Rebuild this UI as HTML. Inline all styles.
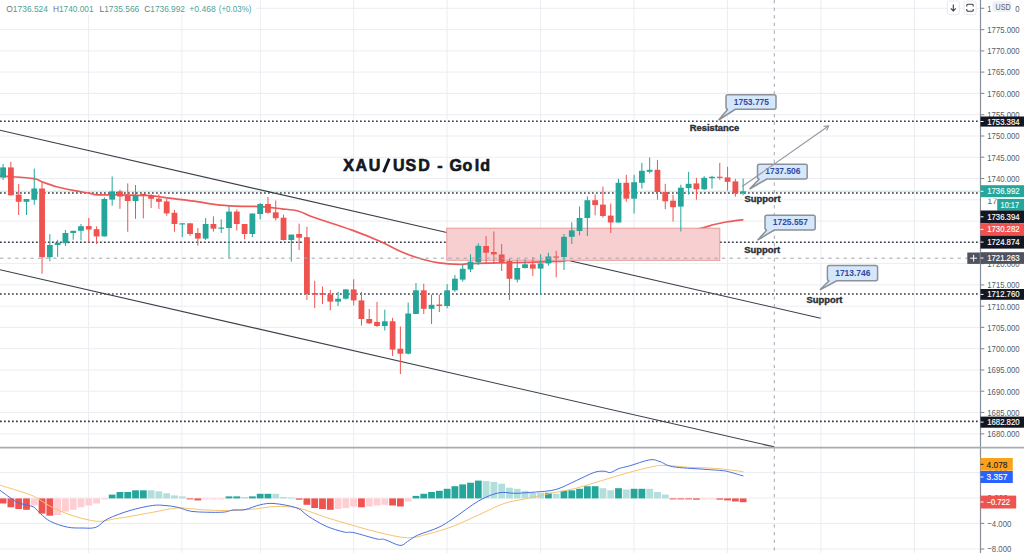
<!DOCTYPE html>
<html><head><meta charset="utf-8"><title>XAU/USD</title>
<style>html,body{margin:0;padding:0;background:#fff;width:1024px;height:553px;overflow:hidden}svg{display:block}text{font-family:"Liberation Sans",sans-serif}</style>
</head><body><svg width="1024" height="553" viewBox="0 0 1024 553"><g stroke="#eaedf1" stroke-width="1"><line x1="88.6" y1="0" x2="88.6" y2="553"/><line x1="181.9" y1="0" x2="181.9" y2="553"/><line x1="260.3" y1="0" x2="260.3" y2="553"/><line x1="353.7" y1="0" x2="353.7" y2="553"/><line x1="447.1" y1="0" x2="447.1" y2="553"/><line x1="540.5" y1="0" x2="540.5" y2="553"/><line x1="634.0" y1="0" x2="634.0" y2="553"/><line x1="727.4" y1="0" x2="727.4" y2="553"/><line x1="820.9" y1="0" x2="820.9" y2="553"/><line x1="914.4" y1="0" x2="914.4" y2="553"/><line x1="0" y1="8.3" x2="980.5" y2="8.3"/><line x1="0" y1="29.6" x2="980.5" y2="29.6"/><line x1="0" y1="50.9" x2="980.5" y2="50.9"/><line x1="0" y1="72.1" x2="980.5" y2="72.1"/><line x1="0" y1="93.4" x2="980.5" y2="93.4"/><line x1="0" y1="114.7" x2="980.5" y2="114.7"/><line x1="0" y1="136.0" x2="980.5" y2="136.0"/><line x1="0" y1="157.2" x2="980.5" y2="157.2"/><line x1="0" y1="178.5" x2="980.5" y2="178.5"/><line x1="0" y1="199.8" x2="980.5" y2="199.8"/><line x1="0" y1="221.1" x2="980.5" y2="221.1"/><line x1="0" y1="242.3" x2="980.5" y2="242.3"/><line x1="0" y1="263.6" x2="980.5" y2="263.6"/><line x1="0" y1="284.9" x2="980.5" y2="284.9"/><line x1="0" y1="306.2" x2="980.5" y2="306.2"/><line x1="0" y1="327.4" x2="980.5" y2="327.4"/><line x1="0" y1="348.7" x2="980.5" y2="348.7"/><line x1="0" y1="370.0" x2="980.5" y2="370.0"/><line x1="0" y1="391.2" x2="980.5" y2="391.2"/><line x1="0" y1="412.5" x2="980.5" y2="412.5"/><line x1="0" y1="433.8" x2="980.5" y2="433.8"/><line x1="0" y1="472.5" x2="980.5" y2="472.5"/><line x1="0" y1="498.0" x2="980.5" y2="498.0"/><line x1="0" y1="523.4" x2="980.5" y2="523.4"/><line x1="0" y1="549.0" x2="980.5" y2="549.0"/></g><g stroke="#363a45" stroke-width="1.6" stroke-dasharray="1.7 2.3"><line x1="0" y1="121.2" x2="980.5" y2="121.2"/><line x1="0" y1="193.0" x2="980.5" y2="193.0"/><line x1="0" y1="242.2" x2="980.5" y2="242.2"/><line x1="0" y1="294.0" x2="980.5" y2="294.0"/><line x1="0" y1="421.4" x2="980.5" y2="421.4"/></g><line x1="0" y1="191.2" x2="980.5" y2="191.2" stroke="#bfe3de" stroke-width="1"/><g stroke="#3c3f48" stroke-width="1.1"><line x1="0" y1="130.2" x2="820.6" y2="318.2"/><line x1="0" y1="269.8" x2="774.3" y2="446.9"/></g><path fill="none" stroke="#ec5b5b" stroke-width="1.7" d="M0.0,176.0 C1.9,176.1 5.7,176.2 11.4,176.7 C17.1,177.1 28.9,177.9 34.0,178.7 C39.1,179.5 38.0,180.4 41.8,181.7 C45.5,183.0 51.0,185.2 56.5,186.7 C62.0,188.2 69.0,189.6 74.6,190.7 C80.2,191.8 86.2,192.7 90.0,193.4 C93.8,194.1 92.6,194.6 97.6,194.8 C102.6,195.0 112.7,194.7 120.0,194.8 C127.3,194.9 136.4,195.3 141.4,195.4 C146.4,195.5 144.7,195.1 150.0,195.6 C155.3,196.1 165.7,197.7 173.5,198.7 C181.3,199.7 189.2,200.6 197.0,201.7 C204.8,202.8 212.7,204.4 220.5,205.2 C228.3,206.0 237.3,206.2 244.0,206.4 C250.7,206.6 254.1,206.2 260.4,206.6 C266.7,207.0 275.3,208.1 281.6,208.8 C287.9,209.5 293.3,209.8 298.0,211.0 C302.7,212.2 306.1,214.5 310.0,216.0 C313.9,217.5 314.7,217.7 321.7,220.0 C328.7,222.3 342.1,226.5 352.0,230.1 C361.9,233.7 372.8,238.1 381.0,241.7 C389.2,245.3 394.6,248.9 401.3,251.8 C408.1,254.7 415.2,257.2 421.5,259.0 C427.8,260.8 432.5,261.9 438.9,262.8 C445.3,263.7 455.0,264.2 460.0,264.3 C465.0,264.4 462.7,263.9 469.0,263.6 C475.3,263.4 488.3,263.0 497.9,262.8 C507.5,262.6 517.2,262.5 526.8,262.3 C536.4,262.1 549.0,261.7 555.7,261.4 C562.5,261.1 556.6,262.4 567.3,260.5 C578.0,258.6 597.8,255.4 620.0,250.0 C642.2,244.6 685.3,232.5 700.6,228.3 C715.9,224.1 707.8,226.1 712.0,225.0 C716.2,223.9 720.8,222.9 726.0,222.0 C731.2,221.1 740.5,220.0 743.4,219.6"/><rect x="446.8" y="228.2" width="273" height="32.1" fill="#f8cfd0" stroke="#e99a9c" stroke-width="1"/><g><line x1="3.10" y1="164.0" x2="3.10" y2="180.0" stroke="#26a69a" stroke-width="1"/><rect x="0.20" y="167.4" width="5.8" height="10.20" fill="#26a69a"/><line x1="10.89" y1="161.8" x2="10.89" y2="195.7" stroke="#ef5350" stroke-width="1"/><rect x="7.99" y="167.4" width="5.8" height="27.90" fill="#ef5350"/><line x1="18.68" y1="184.0" x2="18.68" y2="215.0" stroke="#ef5350" stroke-width="1"/><rect x="15.78" y="194.6" width="5.8" height="7.20" fill="#ef5350"/><line x1="26.47" y1="199.0" x2="26.47" y2="215.0" stroke="#26a69a" stroke-width="1"/><rect x="23.57" y="199.0" width="5.8" height="2.80" fill="#26a69a"/><line x1="34.26" y1="168.6" x2="34.26" y2="204.8" stroke="#26a69a" stroke-width="1"/><rect x="31.36" y="188.5" width="5.8" height="11.30" fill="#26a69a"/><line x1="42.05" y1="181.0" x2="42.05" y2="273.7" stroke="#ef5350" stroke-width="1"/><rect x="39.15" y="188.5" width="5.8" height="68.70" fill="#ef5350"/><line x1="49.84" y1="234.2" x2="49.84" y2="261.3" stroke="#26a69a" stroke-width="1"/><rect x="46.94" y="245.0" width="5.8" height="12.20" fill="#26a69a"/><line x1="57.63" y1="239.8" x2="57.63" y2="256.8" stroke="#26a69a" stroke-width="1"/><rect x="54.73" y="242.7" width="5.8" height="2.30" fill="#26a69a"/><line x1="65.42" y1="230.0" x2="65.42" y2="246.0" stroke="#26a69a" stroke-width="1"/><rect x="62.52" y="233.0" width="5.8" height="10.20" fill="#26a69a"/><line x1="73.21" y1="230.8" x2="73.21" y2="239.8" stroke="#26a69a" stroke-width="1"/><rect x="70.31" y="230.8" width="5.8" height="2.20" fill="#26a69a"/><line x1="81.00" y1="224.0" x2="81.00" y2="240.5" stroke="#26a69a" stroke-width="1"/><rect x="78.10" y="226.2" width="5.8" height="4.60" fill="#26a69a"/><line x1="88.79" y1="218.0" x2="88.79" y2="242.5" stroke="#ef5350" stroke-width="1"/><rect x="85.89" y="226.1" width="5.8" height="3.40" fill="#ef5350"/><line x1="96.58" y1="226.4" x2="96.58" y2="244.0" stroke="#ef5350" stroke-width="1"/><rect x="93.68" y="229.2" width="5.8" height="7.20" fill="#ef5350"/><line x1="104.37" y1="197.3" x2="104.37" y2="236.4" stroke="#26a69a" stroke-width="1"/><rect x="101.47" y="199.0" width="5.8" height="37.40" fill="#26a69a"/><line x1="112.16" y1="176.5" x2="112.16" y2="205.7" stroke="#26a69a" stroke-width="1"/><rect x="109.26" y="191.4" width="5.8" height="8.20" fill="#26a69a"/><line x1="119.95" y1="189.6" x2="119.95" y2="208.8" stroke="#ef5350" stroke-width="1"/><rect x="117.05" y="191.4" width="5.8" height="5.10" fill="#ef5350"/><line x1="127.74" y1="183.4" x2="127.74" y2="231.8" stroke="#ef5350" stroke-width="1"/><rect x="124.84" y="195.0" width="5.8" height="6.00" fill="#ef5350"/><line x1="135.53" y1="185.0" x2="135.53" y2="218.8" stroke="#26a69a" stroke-width="1"/><rect x="132.63" y="195.0" width="5.8" height="6.00" fill="#26a69a"/><line x1="143.32" y1="193.9" x2="143.32" y2="218.4" stroke="#ef5350" stroke-width="1"/><rect x="140.42" y="193.9" width="5.8" height="1.80" fill="#ef5350"/><line x1="151.11" y1="194.2" x2="151.11" y2="208.0" stroke="#ef5350" stroke-width="1"/><rect x="148.21" y="195.4" width="5.8" height="3.40" fill="#ef5350"/><line x1="158.90" y1="194.4" x2="158.90" y2="209.0" stroke="#ef5350" stroke-width="1"/><rect x="156.00" y="198.6" width="5.8" height="3.20" fill="#ef5350"/><line x1="166.69" y1="198.8" x2="166.69" y2="215.7" stroke="#ef5350" stroke-width="1"/><rect x="163.79" y="201.4" width="5.8" height="12.00" fill="#ef5350"/><line x1="174.48" y1="210.0" x2="174.48" y2="231.6" stroke="#ef5350" stroke-width="1"/><rect x="171.58" y="212.8" width="5.8" height="11.20" fill="#ef5350"/><line x1="182.27" y1="223.3" x2="182.27" y2="237.0" stroke="#26a69a" stroke-width="1"/><rect x="179.37" y="223.3" width="5.8" height="1.20" fill="#26a69a"/><line x1="190.06" y1="222.9" x2="190.06" y2="235.8" stroke="#ef5350" stroke-width="1"/><rect x="187.16" y="223.3" width="5.8" height="10.70" fill="#ef5350"/><line x1="197.85" y1="228.0" x2="197.85" y2="245.6" stroke="#ef5350" stroke-width="1"/><rect x="194.95" y="233.0" width="5.8" height="5.60" fill="#ef5350"/><line x1="205.64" y1="218.0" x2="205.64" y2="240.0" stroke="#26a69a" stroke-width="1"/><rect x="202.74" y="224.0" width="5.8" height="14.60" fill="#26a69a"/><line x1="213.43" y1="216.3" x2="213.43" y2="231.6" stroke="#ef5350" stroke-width="1"/><rect x="210.53" y="224.0" width="5.8" height="4.70" fill="#ef5350"/><line x1="221.22" y1="219.3" x2="221.22" y2="233.0" stroke="#26a69a" stroke-width="1"/><rect x="218.32" y="227.54999999999998" width="5.8" height="1.20" fill="#26a69a"/><line x1="229.01" y1="206.4" x2="229.01" y2="258.0" stroke="#26a69a" stroke-width="1"/><rect x="226.11" y="211.6" width="5.8" height="16.40" fill="#26a69a"/><line x1="236.80" y1="209.5" x2="236.80" y2="230.6" stroke="#ef5350" stroke-width="1"/><rect x="233.90" y="211.6" width="5.8" height="12.40" fill="#ef5350"/><line x1="244.59" y1="224.0" x2="244.59" y2="239.3" stroke="#ef5350" stroke-width="1"/><rect x="241.69" y="224.0" width="5.8" height="10.00" fill="#ef5350"/><line x1="252.38" y1="213.5" x2="252.38" y2="237.0" stroke="#26a69a" stroke-width="1"/><rect x="249.48" y="213.5" width="5.8" height="20.50" fill="#26a69a"/><line x1="260.17" y1="203.0" x2="260.17" y2="219.3" stroke="#26a69a" stroke-width="1"/><rect x="257.27" y="204.0" width="5.8" height="10.00" fill="#26a69a"/><line x1="267.96" y1="197.0" x2="267.96" y2="213.5" stroke="#ef5350" stroke-width="1"/><rect x="265.06" y="204.0" width="5.8" height="8.80" fill="#ef5350"/><line x1="275.75" y1="200.5" x2="275.75" y2="220.5" stroke="#ef5350" stroke-width="1"/><rect x="272.85" y="212.3" width="5.8" height="5.90" fill="#ef5350"/><line x1="283.54" y1="214.6" x2="283.54" y2="240.5" stroke="#ef5350" stroke-width="1"/><rect x="280.64" y="217.7" width="5.8" height="22.30" fill="#ef5350"/><line x1="291.33" y1="234.6" x2="291.33" y2="261.6" stroke="#26a69a" stroke-width="1"/><rect x="288.43" y="234.6" width="5.8" height="5.40" fill="#26a69a"/><line x1="299.12" y1="223.6" x2="299.12" y2="250.0" stroke="#ef5350" stroke-width="1"/><rect x="296.22" y="234.0" width="5.8" height="3.70" fill="#ef5350"/><line x1="306.91" y1="226.8" x2="306.91" y2="300.0" stroke="#ef5350" stroke-width="1"/><rect x="304.01" y="237.2" width="5.8" height="56.80" fill="#ef5350"/><line x1="314.70" y1="280.8" x2="314.70" y2="308.0" stroke="#ef5350" stroke-width="1"/><rect x="311.80" y="293.0" width="5.8" height="1.60" fill="#ef5350"/><line x1="322.49" y1="286.5" x2="322.49" y2="304.0" stroke="#ef5350" stroke-width="1"/><rect x="319.59" y="293.0" width="5.8" height="1.60" fill="#ef5350"/><line x1="330.28" y1="290.0" x2="330.28" y2="310.3" stroke="#ef5350" stroke-width="1"/><rect x="327.38" y="294.6" width="5.8" height="7.00" fill="#ef5350"/><line x1="338.07" y1="291.8" x2="338.07" y2="306.0" stroke="#26a69a" stroke-width="1"/><rect x="335.17" y="298.7" width="5.8" height="2.90" fill="#26a69a"/><line x1="345.86" y1="289.0" x2="345.86" y2="299.6" stroke="#26a69a" stroke-width="1"/><rect x="342.96" y="289.4" width="5.8" height="9.30" fill="#26a69a"/><line x1="353.65" y1="279.3" x2="353.65" y2="305.4" stroke="#ef5350" stroke-width="1"/><rect x="350.75" y="289.4" width="5.8" height="11.00" fill="#ef5350"/><line x1="361.44" y1="291.8" x2="361.44" y2="325.6" stroke="#ef5350" stroke-width="1"/><rect x="358.54" y="300.4" width="5.8" height="18.60" fill="#ef5350"/><line x1="369.23" y1="309.0" x2="369.23" y2="324.0" stroke="#ef5350" stroke-width="1"/><rect x="366.33" y="319.0" width="5.8" height="4.30" fill="#ef5350"/><line x1="377.02" y1="301.9" x2="377.02" y2="327.0" stroke="#ef5350" stroke-width="1"/><rect x="374.12" y="321.9" width="5.8" height="4.10" fill="#ef5350"/><line x1="384.81" y1="309.7" x2="384.81" y2="330.5" stroke="#26a69a" stroke-width="1"/><rect x="381.91" y="321.3" width="5.8" height="4.70" fill="#26a69a"/><line x1="392.60" y1="317.8" x2="392.60" y2="356.0" stroke="#ef5350" stroke-width="1"/><rect x="389.70" y="321.3" width="5.8" height="28.30" fill="#ef5350"/><line x1="400.39" y1="326.5" x2="400.39" y2="374.0" stroke="#ef5350" stroke-width="1"/><rect x="397.49" y="348.8" width="5.8" height="4.90" fill="#ef5350"/><line x1="408.18" y1="302.5" x2="408.18" y2="354.5" stroke="#26a69a" stroke-width="1"/><rect x="405.28" y="313.5" width="5.8" height="40.20" fill="#26a69a"/><line x1="415.97" y1="283.0" x2="415.97" y2="314.0" stroke="#26a69a" stroke-width="1"/><rect x="413.07" y="290.3" width="5.8" height="23.70" fill="#26a69a"/><line x1="423.76" y1="283.7" x2="423.76" y2="314.0" stroke="#ef5350" stroke-width="1"/><rect x="420.86" y="290.3" width="5.8" height="18.50" fill="#ef5350"/><line x1="431.55" y1="294.7" x2="431.55" y2="324.0" stroke="#26a69a" stroke-width="1"/><rect x="428.65" y="304.8" width="5.8" height="4.00" fill="#26a69a"/><line x1="439.34" y1="294.7" x2="439.34" y2="312.0" stroke="#ef5350" stroke-width="1"/><rect x="436.44" y="304.5" width="5.8" height="1.50" fill="#ef5350"/><line x1="447.13" y1="284.2" x2="447.13" y2="308.3" stroke="#26a69a" stroke-width="1"/><rect x="444.23" y="290.3" width="5.8" height="15.70" fill="#26a69a"/><line x1="454.92" y1="275.0" x2="454.92" y2="291.8" stroke="#26a69a" stroke-width="1"/><rect x="452.02" y="278.7" width="5.8" height="11.60" fill="#26a69a"/><line x1="462.71" y1="264.3" x2="462.71" y2="281.7" stroke="#26a69a" stroke-width="1"/><rect x="459.81" y="268.8" width="5.8" height="10.80" fill="#26a69a"/><line x1="470.50" y1="254.2" x2="470.50" y2="272.0" stroke="#26a69a" stroke-width="1"/><rect x="467.60" y="261.6" width="5.8" height="7.80" fill="#26a69a"/><line x1="478.29" y1="243.2" x2="478.29" y2="265.0" stroke="#26a69a" stroke-width="1"/><rect x="475.39" y="245.8" width="5.8" height="16.50" fill="#26a69a"/><line x1="486.08" y1="236.2" x2="486.08" y2="263.5" stroke="#ef5350" stroke-width="1"/><rect x="483.18" y="246.0" width="5.8" height="6.70" fill="#ef5350"/><line x1="493.87" y1="231.5" x2="493.87" y2="264.0" stroke="#ef5350" stroke-width="1"/><rect x="490.97" y="252.0" width="5.8" height="2.40" fill="#ef5350"/><line x1="501.66" y1="244.0" x2="501.66" y2="271.0" stroke="#ef5350" stroke-width="1"/><rect x="498.76" y="254.5" width="5.8" height="8.10" fill="#ef5350"/><line x1="509.45" y1="258.5" x2="509.45" y2="300.0" stroke="#ef5350" stroke-width="1"/><rect x="506.55" y="261.0" width="5.8" height="17.80" fill="#ef5350"/><line x1="517.24" y1="259.4" x2="517.24" y2="282.5" stroke="#26a69a" stroke-width="1"/><rect x="514.34" y="268.0" width="5.8" height="11.60" fill="#26a69a"/><line x1="525.03" y1="259.4" x2="525.03" y2="268.6" stroke="#26a69a" stroke-width="1"/><rect x="522.13" y="264.3" width="5.8" height="3.70" fill="#26a69a"/><line x1="532.82" y1="257.0" x2="532.82" y2="275.9" stroke="#ef5350" stroke-width="1"/><rect x="529.92" y="264.3" width="5.8" height="4.30" fill="#ef5350"/><line x1="540.61" y1="254.2" x2="540.61" y2="294.7" stroke="#26a69a" stroke-width="1"/><rect x="537.71" y="263.4" width="5.8" height="5.20" fill="#26a69a"/><line x1="548.40" y1="252.7" x2="548.40" y2="265.7" stroke="#26a69a" stroke-width="1"/><rect x="545.50" y="256.5" width="5.8" height="6.90" fill="#26a69a"/><line x1="556.19" y1="250.7" x2="556.19" y2="277.3" stroke="#ef5350" stroke-width="1"/><rect x="553.29" y="256.45" width="5.8" height="1.20" fill="#ef5350"/><line x1="563.98" y1="234.0" x2="563.98" y2="270.0" stroke="#26a69a" stroke-width="1"/><rect x="561.08" y="236.8" width="5.8" height="20.20" fill="#26a69a"/><line x1="571.77" y1="222.3" x2="571.77" y2="244.0" stroke="#26a69a" stroke-width="1"/><rect x="568.87" y="230.4" width="5.8" height="6.40" fill="#26a69a"/><line x1="579.56" y1="206.4" x2="579.56" y2="235.4" stroke="#26a69a" stroke-width="1"/><rect x="576.66" y="218.0" width="5.8" height="13.00" fill="#26a69a"/><line x1="587.35" y1="196.5" x2="587.35" y2="236.0" stroke="#26a69a" stroke-width="1"/><rect x="584.45" y="200.2" width="5.8" height="17.80" fill="#26a69a"/><line x1="595.14" y1="194.5" x2="595.14" y2="215.3" stroke="#ef5350" stroke-width="1"/><rect x="592.24" y="200.2" width="5.8" height="4.90" fill="#ef5350"/><line x1="602.93" y1="186.7" x2="602.93" y2="217.6" stroke="#ef5350" stroke-width="1"/><rect x="600.03" y="204.6" width="5.8" height="11.40" fill="#ef5350"/><line x1="610.72" y1="203.6" x2="610.72" y2="233.0" stroke="#ef5350" stroke-width="1"/><rect x="607.82" y="215.6" width="5.8" height="6.90" fill="#ef5350"/><line x1="618.51" y1="178.8" x2="618.51" y2="222.5" stroke="#26a69a" stroke-width="1"/><rect x="615.61" y="182.8" width="5.8" height="39.70" fill="#26a69a"/><line x1="626.30" y1="174.8" x2="626.30" y2="201.7" stroke="#ef5350" stroke-width="1"/><rect x="623.40" y="182.8" width="5.8" height="15.90" fill="#ef5350"/><line x1="634.09" y1="174.8" x2="634.09" y2="213.6" stroke="#26a69a" stroke-width="1"/><rect x="631.19" y="182.2" width="5.8" height="16.50" fill="#26a69a"/><line x1="641.88" y1="162.9" x2="641.88" y2="188.7" stroke="#26a69a" stroke-width="1"/><rect x="638.98" y="170.8" width="5.8" height="12.00" fill="#26a69a"/><line x1="649.67" y1="157.5" x2="649.67" y2="173.4" stroke="#26a69a" stroke-width="1"/><rect x="646.77" y="169.8" width="5.8" height="2.00" fill="#26a69a"/><line x1="657.46" y1="159.9" x2="657.46" y2="199.7" stroke="#ef5350" stroke-width="1"/><rect x="654.56" y="169.8" width="5.8" height="22.20" fill="#ef5350"/><line x1="665.25" y1="183.8" x2="665.25" y2="209.2" stroke="#ef5350" stroke-width="1"/><rect x="662.35" y="192.0" width="5.8" height="9.30" fill="#ef5350"/><line x1="673.04" y1="194.7" x2="673.04" y2="221.5" stroke="#ef5350" stroke-width="1"/><rect x="670.14" y="200.7" width="5.8" height="6.50" fill="#ef5350"/><line x1="680.83" y1="184.7" x2="680.83" y2="231.5" stroke="#26a69a" stroke-width="1"/><rect x="677.93" y="187.7" width="5.8" height="18.90" fill="#26a69a"/><line x1="688.62" y1="171.8" x2="688.62" y2="194.7" stroke="#26a69a" stroke-width="1"/><rect x="685.72" y="183.8" width="5.8" height="4.30" fill="#26a69a"/><line x1="696.41" y1="177.8" x2="696.41" y2="199.7" stroke="#ef5350" stroke-width="1"/><rect x="693.51" y="183.4" width="5.8" height="5.90" fill="#ef5350"/><line x1="704.20" y1="176.2" x2="704.20" y2="190.0" stroke="#26a69a" stroke-width="1"/><rect x="701.30" y="177.8" width="5.8" height="11.50" fill="#26a69a"/><line x1="711.99" y1="175.8" x2="711.99" y2="188.7" stroke="#26a69a" stroke-width="1"/><rect x="709.09" y="176.8" width="5.8" height="1.40" fill="#26a69a"/><line x1="719.78" y1="162.9" x2="719.78" y2="179.8" stroke="#ef5350" stroke-width="1"/><rect x="716.88" y="176.70000000000002" width="5.8" height="1.20" fill="#ef5350"/><line x1="727.57" y1="166.8" x2="727.57" y2="190.7" stroke="#ef5350" stroke-width="1"/><rect x="724.67" y="177.4" width="5.8" height="4.40" fill="#ef5350"/><line x1="735.36" y1="178.8" x2="735.36" y2="196.7" stroke="#ef5350" stroke-width="1"/><rect x="732.46" y="181.4" width="5.8" height="11.90" fill="#ef5350"/><line x1="743.15" y1="178.5" x2="743.15" y2="195.3" stroke="#26a69a" stroke-width="1"/><rect x="740.25" y="191.3" width="5.8" height="2.00" fill="#26a69a"/></g><g><rect x="-0.30" y="498.4" width="6.8" height="5.10" fill="#ef5350"/><rect x="7.49" y="498.4" width="6.8" height="8.90" fill="#ef5350"/><rect x="15.28" y="498.4" width="6.8" height="10.60" fill="#ef5350"/><rect x="23.07" y="498.4" width="6.8" height="11.40" fill="#ef5350"/><rect x="30.86" y="498.4" width="6.8" height="7.10" fill="#ffcdd2"/><rect x="38.65" y="498.4" width="6.8" height="15.20" fill="#ef5350"/><rect x="46.44" y="498.4" width="6.8" height="17.30" fill="#ef5350"/><rect x="54.23" y="498.4" width="6.8" height="16.60" fill="#ffcdd2"/><rect x="62.02" y="498.4" width="6.8" height="13.20" fill="#ffcdd2"/><rect x="69.81" y="498.4" width="6.8" height="11.40" fill="#ffcdd2"/><rect x="77.60" y="498.4" width="6.8" height="8.90" fill="#ffcdd2"/><rect x="85.39" y="498.4" width="6.8" height="7.10" fill="#ffcdd2"/><rect x="93.18" y="498.4" width="6.8" height="5.10" fill="#ffcdd2"/><rect x="100.97" y="498.4" width="6.8" height="1.10" fill="#ffcdd2"/><rect x="108.76" y="494.6" width="6.8" height="3.80" fill="#26a69a"/><rect x="116.55" y="492.0" width="6.8" height="6.40" fill="#26a69a"/><rect x="124.34" y="492.0" width="6.8" height="6.40" fill="#26a69a"/><rect x="132.13" y="490.3" width="6.8" height="8.10" fill="#26a69a"/><rect x="139.92" y="490.3" width="6.8" height="8.10" fill="#26a69a"/><rect x="147.71" y="490.3" width="6.8" height="8.10" fill="#b2dfdb"/><rect x="155.50" y="491.3" width="6.8" height="7.10" fill="#b2dfdb"/><rect x="163.29" y="493.3" width="6.8" height="5.10" fill="#b2dfdb"/><rect x="171.08" y="495.4" width="6.8" height="3.00" fill="#b2dfdb"/><rect x="178.87" y="496.4" width="6.8" height="2.00" fill="#b2dfdb"/><rect x="186.66" y="498.4" width="6.8" height="1.00" fill="#ef5350"/><rect x="194.45" y="498.4" width="6.8" height="2.00" fill="#ef5350"/><rect x="202.24" y="498.4" width="6.8" height="1.00" fill="#ffcdd2"/><rect x="210.03" y="498.4" width="6.8" height="1.00" fill="#ffcdd2"/><rect x="217.82" y="498.4" width="6.8" height="1.00" fill="#ffcdd2"/><rect x="225.61" y="496.4" width="6.8" height="2.00" fill="#26a69a"/><rect x="233.40" y="496.4" width="6.8" height="2.00" fill="#26a69a"/><rect x="241.19" y="497.0" width="6.8" height="1.40" fill="#b2dfdb"/><rect x="248.98" y="496.4" width="6.8" height="2.00" fill="#26a69a"/><rect x="256.77" y="493.8" width="6.8" height="4.60" fill="#26a69a"/><rect x="264.56" y="493.8" width="6.8" height="4.60" fill="#26a69a"/><rect x="272.35" y="493.8" width="6.8" height="4.60" fill="#b2dfdb"/><rect x="280.14" y="497.0" width="6.8" height="1.40" fill="#b2dfdb"/><rect x="287.93" y="497.5" width="6.8" height="1.00" fill="#b2dfdb"/><rect x="295.72" y="498.4" width="6.8" height="1.30" fill="#ef5350"/><rect x="303.51" y="498.4" width="6.8" height="6.40" fill="#ef5350"/><rect x="311.30" y="498.4" width="6.8" height="9.60" fill="#ef5350"/><rect x="319.09" y="498.4" width="6.8" height="10.60" fill="#ef5350"/><rect x="326.88" y="498.4" width="6.8" height="11.40" fill="#ef5350"/><rect x="334.67" y="498.4" width="6.8" height="10.60" fill="#ffcdd2"/><rect x="342.46" y="498.4" width="6.8" height="9.60" fill="#ffcdd2"/><rect x="350.25" y="498.4" width="6.8" height="8.10" fill="#ffcdd2"/><rect x="358.04" y="498.4" width="6.8" height="8.90" fill="#ef5350"/><rect x="365.83" y="498.4" width="6.8" height="8.10" fill="#ffcdd2"/><rect x="373.62" y="498.4" width="6.8" height="7.10" fill="#ffcdd2"/><rect x="381.41" y="498.4" width="6.8" height="6.40" fill="#ffcdd2"/><rect x="389.20" y="498.4" width="6.8" height="7.10" fill="#ef5350"/><rect x="396.99" y="498.4" width="6.8" height="8.10" fill="#ef5350"/><rect x="404.78" y="498.4" width="6.8" height="3.10" fill="#ffcdd2"/><rect x="412.57" y="495.9" width="6.8" height="2.50" fill="#26a69a"/><rect x="420.36" y="493.8" width="6.8" height="4.60" fill="#26a69a"/><rect x="428.15" y="492.0" width="6.8" height="6.40" fill="#26a69a"/><rect x="435.94" y="490.8" width="6.8" height="7.60" fill="#26a69a"/><rect x="443.73" y="488.8" width="6.8" height="9.60" fill="#26a69a"/><rect x="451.52" y="486.2" width="6.8" height="12.20" fill="#26a69a"/><rect x="459.31" y="484.4" width="6.8" height="14.00" fill="#26a69a"/><rect x="467.10" y="482.7" width="6.8" height="15.70" fill="#26a69a"/><rect x="474.89" y="480.6" width="6.8" height="17.80" fill="#26a69a"/><rect x="482.68" y="481.1" width="6.8" height="17.30" fill="#b2dfdb"/><rect x="490.47" y="481.9" width="6.8" height="16.50" fill="#b2dfdb"/><rect x="498.26" y="483.7" width="6.8" height="14.70" fill="#b2dfdb"/><rect x="506.05" y="487.7" width="6.8" height="10.70" fill="#b2dfdb"/><rect x="513.84" y="488.8" width="6.8" height="9.60" fill="#b2dfdb"/><rect x="521.63" y="490.8" width="6.8" height="7.60" fill="#b2dfdb"/><rect x="529.42" y="492.8" width="6.8" height="5.60" fill="#b2dfdb"/><rect x="537.21" y="492.8" width="6.8" height="5.60" fill="#b2dfdb"/><rect x="545.00" y="492.8" width="6.8" height="5.60" fill="#26a69a"/><rect x="552.79" y="493.8" width="6.8" height="4.60" fill="#b2dfdb"/><rect x="560.58" y="490.8" width="6.8" height="7.60" fill="#26a69a"/><rect x="568.37" y="490.3" width="6.8" height="8.10" fill="#26a69a"/><rect x="576.16" y="488.8" width="6.8" height="9.60" fill="#26a69a"/><rect x="583.95" y="486.2" width="6.8" height="12.20" fill="#26a69a"/><rect x="591.74" y="486.2" width="6.8" height="12.20" fill="#26a69a"/><rect x="599.53" y="488.2" width="6.8" height="10.20" fill="#b2dfdb"/><rect x="607.32" y="490.3" width="6.8" height="8.10" fill="#b2dfdb"/><rect x="615.11" y="488.2" width="6.8" height="10.20" fill="#26a69a"/><rect x="622.90" y="489.5" width="6.8" height="8.90" fill="#b2dfdb"/><rect x="630.69" y="488.8" width="6.8" height="9.60" fill="#26a69a"/><rect x="638.48" y="488.8" width="6.8" height="9.60" fill="#26a69a"/><rect x="646.27" y="488.8" width="6.8" height="9.60" fill="#b2dfdb"/><rect x="654.06" y="492.0" width="6.8" height="6.40" fill="#b2dfdb"/><rect x="661.85" y="494.6" width="6.8" height="3.80" fill="#b2dfdb"/><rect x="669.64" y="498.4" width="6.8" height="1.00" fill="#ef5350"/><rect x="677.43" y="498.4" width="6.8" height="1.00" fill="#ef5350"/><rect x="685.22" y="498.4" width="6.8" height="1.00" fill="#ef5350"/><rect x="693.01" y="498.4" width="6.8" height="1.30" fill="#ef5350"/><rect x="700.80" y="498.4" width="6.8" height="1.00" fill="#ffcdd2"/><rect x="708.59" y="498.4" width="6.8" height="1.00" fill="#ffcdd2"/><rect x="716.38" y="498.4" width="6.8" height="1.30" fill="#ef5350"/><rect x="724.17" y="498.4" width="6.8" height="2.00" fill="#ef5350"/><rect x="731.96" y="498.4" width="6.8" height="3.10" fill="#ef5350"/><rect x="739.75" y="498.4" width="6.8" height="3.80" fill="#ef5350"/></g><path fill="none" stroke="#f5c46e" stroke-width="1.0" d="M0.0,485.2 C2.8,486.1 11.2,488.5 16.8,490.3 C22.4,492.1 28.0,493.5 33.6,496.2 C39.2,498.9 44.8,503.4 50.4,506.3 C56.0,509.2 61.7,511.8 67.3,513.9 C72.9,516.0 78.8,517.6 84.1,518.9 C89.4,520.1 94.2,521.4 99.2,521.4 C104.2,521.4 109.3,519.7 114.4,518.9 C119.5,518.1 123.7,517.5 130.0,516.4 C136.3,515.3 144.4,513.8 152.4,512.4 C160.4,511.0 169.3,508.4 177.8,508.0 C186.3,507.6 194.8,509.4 203.2,509.8 C211.6,510.2 220.0,510.7 228.5,510.6 C237.0,510.5 246.2,509.7 254.0,509.0 C261.8,508.3 268.0,506.7 275.4,506.5 C282.8,506.3 289.7,506.2 298.2,508.0 C306.7,509.8 317.3,514.7 326.2,517.5 C335.1,520.3 343.1,522.6 351.6,525.0 C360.1,527.4 367.7,529.9 377.0,532.0 C386.3,534.1 398.9,537.5 407.4,537.8 C415.9,538.1 420.2,535.9 427.8,534.0 C435.4,532.1 444.6,529.5 453.0,526.3 C461.4,523.1 470.0,518.8 478.5,515.0 C487.0,511.2 496.2,506.2 504.0,503.5 C511.8,500.8 517.6,500.6 525.4,498.9 C533.2,497.2 542.3,495.1 550.8,493.3 C559.3,491.5 567.7,490.3 576.2,488.2 C584.7,486.1 593.1,483.1 601.6,480.6 C610.1,478.1 618.5,475.3 627.0,473.0 C635.5,470.7 646.1,468.0 652.4,466.7 C658.7,465.4 658.6,465.3 665.0,465.4 C671.4,465.5 682.0,466.9 690.5,467.4 C699.0,467.9 707.0,467.7 715.8,468.4 C724.6,469.1 738.7,471.1 743.3,471.7"/><path fill="none" stroke="#4a6fe0" stroke-width="1.0" d="M0.0,490.3 C2.8,492.2 12.0,499.5 16.8,502.0 C21.6,504.5 25.7,504.5 28.6,505.4 C31.6,506.3 32.5,506.2 34.5,507.6 C36.5,509.0 37.8,511.2 40.4,513.5 C43.0,515.8 45.9,519.1 50.4,521.4 C54.9,523.7 62.0,526.0 67.3,527.1 C72.6,528.2 77.2,528.0 82.0,528.0 C86.8,528.0 91.6,528.8 95.9,527.3 C100.2,525.8 101.9,521.7 107.6,518.9 C113.3,516.1 122.5,512.7 130.0,510.5 C137.5,508.3 146.6,506.3 152.4,505.5 C158.2,504.7 160.8,505.2 165.0,505.5 C169.2,505.8 173.1,506.3 177.8,507.3 C182.5,508.3 185.6,510.7 193.0,511.5 C200.4,512.3 215.3,512.5 222.0,512.2 C228.7,512.0 229.2,510.4 233.0,510.0 C236.8,509.6 240.5,510.5 245.0,509.6 C249.5,508.7 255.4,505.8 260.2,504.8 C265.0,503.8 267.9,503.0 274.0,503.5 C280.1,504.0 291.3,505.9 297.0,508.0 C302.7,510.1 303.5,513.2 308.4,516.2 C313.3,519.2 320.3,523.7 326.2,526.3 C332.1,528.9 339.4,530.9 344.0,532.0 C348.6,533.1 348.5,531.5 354.0,532.7 C359.5,533.9 371.9,537.9 377.0,539.0 C382.1,540.1 380.8,538.4 384.6,539.5 C388.4,540.6 396.0,545.0 399.8,545.4 C403.6,545.8 404.4,543.3 407.4,541.6 C410.4,539.9 412.5,537.5 417.6,535.2 C422.7,532.9 432.1,530.4 438.0,527.6 C443.9,524.9 446.2,523.1 453.0,518.7 C459.8,514.3 470.9,505.3 478.5,501.0 C486.1,496.7 492.7,494.1 498.8,492.8 C504.9,491.5 509.1,493.4 515.2,493.3 C521.3,493.2 528.8,492.6 535.6,492.0 C542.4,491.4 549.1,491.4 555.9,489.5 C562.7,487.6 569.9,483.4 576.2,480.6 C582.6,477.8 589.4,474.1 594.0,472.5 C598.6,470.9 601.2,471.2 604.0,471.2 C606.8,471.2 608.0,473.0 610.5,472.5 C613.0,472.0 616.1,469.5 619.3,468.4 C622.5,467.3 624.4,467.3 629.5,465.9 C634.6,464.5 644.7,460.5 649.8,459.8 C654.9,459.1 656.2,460.5 660.0,461.6 C663.8,462.8 665.5,465.4 672.7,466.7 C679.9,468.0 695.1,468.6 703.1,469.2 C711.1,469.8 716.8,470.1 721.0,470.5 C725.2,470.9 724.8,470.8 728.5,471.7 C732.2,472.6 740.8,475.3 743.3,476.0"/><g stroke="#a2a5ad" stroke-width="1" stroke-dasharray="3.3 4.3"><line x1="774.3" y1="0" x2="774.3" y2="553"/><line x1="0" y1="258.2" x2="980.5" y2="258.2"/></g><path d="M728,94.8 H774 Q776,94.8 776,96.8 V107.3 Q776,109.3 774,109.3 H735.3 L718.6,120 L727.8,109.3 H728 Q726,109.3 726,107.3 V96.8 Q726,94.8 728,94.8 Z" fill="#d5e7fb" stroke="#8c9098" stroke-width="1.5"/><text x="733.8" y="104.5" font-size="8.2" font-weight="bold" fill="#33479f" textLength="35.2" lengthAdjust="spacingAndGlyphs" style="font-family:'Liberation Sans',sans-serif">1753.775</text><path d="M759.5,164.2 H805.2 Q807.2,164.2 807.2,166.2 V177 Q807.2,179 805.2,179 H766.8 L749.6,189 L759.3,179 H759.5 Q757.5,179 757.5,177 V166.2 Q757.5,164.2 759.5,164.2 Z" fill="#d5e7fb" stroke="#8c9098" stroke-width="1.5"/><text x="765.3" y="174.0" font-size="8.2" font-weight="bold" fill="#33479f" textLength="35.2" lengthAdjust="spacingAndGlyphs" style="font-family:'Liberation Sans',sans-serif">1737.506</text><path d="M767,215.2 H813.2 Q815.2,215.2 815.2,217.2 V228.1 Q815.2,230.1 813.2,230.1 H774.3 L757.5,240.2 L766.8,230.1 H767 Q765,230.1 765,228.1 V217.2 Q765,215.2 767,215.2 Z" fill="#d5e7fb" stroke="#8c9098" stroke-width="1.5"/><text x="772.8" y="225.0" font-size="8.2" font-weight="bold" fill="#33479f" textLength="35.2" lengthAdjust="spacingAndGlyphs" style="font-family:'Liberation Sans',sans-serif">1725.557</text><path d="M829.4,265.4 H875.6 Q877.6,265.4 877.6,267.4 V278.8 Q877.6,280.8 875.6,280.8 H836.6999999999999 L820,289.8 L829.1999999999999,280.8 H829.4 Q827.4,280.8 827.4,278.8 V267.4 Q827.4,265.4 829.4,265.4 Z" fill="#d5e7fb" stroke="#8c9098" stroke-width="1.5"/><text x="835.2" y="275.5" font-size="8.2" font-weight="bold" fill="#33479f" textLength="35.2" lengthAdjust="spacingAndGlyphs" style="font-family:'Liberation Sans',sans-serif">1713.746</text><g stroke="#9598a1" stroke-width="1.2" fill="none"><line x1="742.2" y1="186.5" x2="828.5" y2="126"/><polyline points="823.5,126.3 828.5,126 826.7,130.5"/></g><g font-size="16" font-weight="bold" fill="#131722" stroke="#131722" stroke-width="0.65" text-anchor="middle"><text x="348.5" y="170.6" style="font-family:'Liberation Sans',sans-serif">X</text><text x="361.4" y="170.6" style="font-family:'Liberation Sans',sans-serif">A</text><text x="374.55" y="170.6" style="font-family:'Liberation Sans',sans-serif">U</text><text x="398.75" y="170.6" style="font-family:'Liberation Sans',sans-serif">U</text><text x="410.8" y="170.6" style="font-family:'Liberation Sans',sans-serif">S</text><text x="424.1" y="170.6" style="font-family:'Liberation Sans',sans-serif">D</text><text x="440.0" y="170.6" style="font-family:'Liberation Sans',sans-serif">-</text><text x="455.65" y="170.6" style="font-family:'Liberation Sans',sans-serif">G</text><text x="467.5" y="170.6" style="font-family:'Liberation Sans',sans-serif">o</text><text x="477.0" y="170.6" style="font-family:'Liberation Sans',sans-serif">l</text><text x="485.25" y="170.6" style="font-family:'Liberation Sans',sans-serif">d</text></g><line x1="389.2" y1="158.6" x2="383.6" y2="172.3" stroke="#131722" stroke-width="2.9"/><text x="689.8" y="131.2" font-size="8.2" font-weight="bold" fill="#2a2e39" stroke="#2a2e39" stroke-width="0.35" textLength="49.4" lengthAdjust="spacingAndGlyphs" style="font-family:'Liberation Sans',sans-serif">Resistance</text><text x="744.6" y="201.8" font-size="8.2" font-weight="bold" fill="#2a2e39" stroke="#2a2e39" stroke-width="0.35" textLength="36" lengthAdjust="spacingAndGlyphs" style="font-family:'Liberation Sans',sans-serif">Support</text><text x="744.2" y="252.7" font-size="8.2" font-weight="bold" fill="#2a2e39" stroke="#2a2e39" stroke-width="0.35" textLength="36" lengthAdjust="spacingAndGlyphs" style="font-family:'Liberation Sans',sans-serif">Support</text><text x="806.5" y="303.2" font-size="8.2" font-weight="bold" fill="#2a2e39" stroke="#2a2e39" stroke-width="0.35" textLength="36" lengthAdjust="spacingAndGlyphs" style="font-family:'Liberation Sans',sans-serif">Support</text><rect x="0" y="0" width="256" height="15" fill="#fff"/><text x="6.25" y="11.6" font-size="9" fill="#4f9f96" textLength="41.75" lengthAdjust="spacingAndGlyphs" style="font-family:'Liberation Sans',sans-serif"><tspan fill="#6f727d">O</tspan>1736.524</text><text x="53" y="11.6" font-size="9" fill="#4f9f96" textLength="40.50" lengthAdjust="spacingAndGlyphs" style="font-family:'Liberation Sans',sans-serif"><tspan fill="#6f727d">H</tspan>1740.001</text><text x="99.5" y="11.6" font-size="9" fill="#4f9f96" textLength="39.75" lengthAdjust="spacingAndGlyphs" style="font-family:'Liberation Sans',sans-serif"><tspan fill="#6f727d">L</tspan>1735.566</text><text x="144.25" y="11.6" font-size="9" fill="#4f9f96" textLength="40.75" lengthAdjust="spacingAndGlyphs" style="font-family:'Liberation Sans',sans-serif"><tspan fill="#6f727d">C</tspan>1736.992</text><text x="189.25" y="11.6" font-size="9" fill="#4f9f96" textLength="26.6" lengthAdjust="spacingAndGlyphs" style="font-family:'Liberation Sans',sans-serif">+0.468</text><text x="218.75" y="11.6" font-size="9" fill="#4f9f96" textLength="32.8" lengthAdjust="spacingAndGlyphs" style="font-family:'Liberation Sans',sans-serif">(+0.03%)</text><rect x="980.5" y="0" width="43.5" height="553" fill="#ffffff"/><line x1="980.5" y1="0" x2="980.5" y2="553" stroke="#8a8e97" stroke-width="1.2"/><line x1="980.5" y1="8.3" x2="984.3" y2="8.3" stroke="#8a8e97" stroke-width="1.1"/><text x="987.3" y="11.6" font-size="9.4" fill="#585b66" textLength="32.4" lengthAdjust="spacingAndGlyphs" style="font-family:'Liberation Sans',sans-serif">1780.000</text><line x1="980.5" y1="29.6" x2="984.3" y2="29.6" stroke="#8a8e97" stroke-width="1.1"/><text x="987.3" y="32.9" font-size="9.4" fill="#585b66" textLength="32.4" lengthAdjust="spacingAndGlyphs" style="font-family:'Liberation Sans',sans-serif">1775.000</text><line x1="980.5" y1="50.9" x2="984.3" y2="50.9" stroke="#8a8e97" stroke-width="1.1"/><text x="987.3" y="54.2" font-size="9.4" fill="#585b66" textLength="32.4" lengthAdjust="spacingAndGlyphs" style="font-family:'Liberation Sans',sans-serif">1770.000</text><line x1="980.5" y1="72.1" x2="984.3" y2="72.1" stroke="#8a8e97" stroke-width="1.1"/><text x="987.3" y="75.4" font-size="9.4" fill="#585b66" textLength="32.4" lengthAdjust="spacingAndGlyphs" style="font-family:'Liberation Sans',sans-serif">1765.000</text><line x1="980.5" y1="93.4" x2="984.3" y2="93.4" stroke="#8a8e97" stroke-width="1.1"/><text x="987.3" y="96.7" font-size="9.4" fill="#585b66" textLength="32.4" lengthAdjust="spacingAndGlyphs" style="font-family:'Liberation Sans',sans-serif">1760.000</text><line x1="980.5" y1="114.7" x2="984.3" y2="114.7" stroke="#8a8e97" stroke-width="1.1"/><text x="987.3" y="118.0" font-size="9.4" fill="#585b66" textLength="32.4" lengthAdjust="spacingAndGlyphs" style="font-family:'Liberation Sans',sans-serif">1755.000</text><line x1="980.5" y1="136.0" x2="984.3" y2="136.0" stroke="#8a8e97" stroke-width="1.1"/><text x="987.3" y="139.3" font-size="9.4" fill="#585b66" textLength="32.4" lengthAdjust="spacingAndGlyphs" style="font-family:'Liberation Sans',sans-serif">1750.000</text><line x1="980.5" y1="157.2" x2="984.3" y2="157.2" stroke="#8a8e97" stroke-width="1.1"/><text x="987.3" y="160.5" font-size="9.4" fill="#585b66" textLength="32.4" lengthAdjust="spacingAndGlyphs" style="font-family:'Liberation Sans',sans-serif">1745.000</text><line x1="980.5" y1="178.5" x2="984.3" y2="178.5" stroke="#8a8e97" stroke-width="1.1"/><text x="987.3" y="181.8" font-size="9.4" fill="#585b66" textLength="32.4" lengthAdjust="spacingAndGlyphs" style="font-family:'Liberation Sans',sans-serif">1740.000</text><line x1="980.5" y1="199.8" x2="984.3" y2="199.8" stroke="#8a8e97" stroke-width="1.1"/><text x="987.3" y="203.1" font-size="9.4" fill="#585b66" textLength="32.4" lengthAdjust="spacingAndGlyphs" style="font-family:'Liberation Sans',sans-serif">1735.000</text><line x1="980.5" y1="221.1" x2="984.3" y2="221.1" stroke="#8a8e97" stroke-width="1.1"/><text x="987.3" y="224.4" font-size="9.4" fill="#585b66" textLength="32.4" lengthAdjust="spacingAndGlyphs" style="font-family:'Liberation Sans',sans-serif">1730.000</text><line x1="980.5" y1="242.3" x2="984.3" y2="242.3" stroke="#8a8e97" stroke-width="1.1"/><text x="987.3" y="245.6" font-size="9.4" fill="#585b66" textLength="32.4" lengthAdjust="spacingAndGlyphs" style="font-family:'Liberation Sans',sans-serif">1725.000</text><line x1="980.5" y1="263.6" x2="984.3" y2="263.6" stroke="#8a8e97" stroke-width="1.1"/><text x="987.3" y="266.9" font-size="9.4" fill="#585b66" textLength="32.4" lengthAdjust="spacingAndGlyphs" style="font-family:'Liberation Sans',sans-serif">1720.000</text><line x1="980.5" y1="284.9" x2="984.3" y2="284.9" stroke="#8a8e97" stroke-width="1.1"/><text x="987.3" y="288.2" font-size="9.4" fill="#585b66" textLength="32.4" lengthAdjust="spacingAndGlyphs" style="font-family:'Liberation Sans',sans-serif">1715.000</text><line x1="980.5" y1="306.2" x2="984.3" y2="306.2" stroke="#8a8e97" stroke-width="1.1"/><text x="987.3" y="309.5" font-size="9.4" fill="#585b66" textLength="32.4" lengthAdjust="spacingAndGlyphs" style="font-family:'Liberation Sans',sans-serif">1710.000</text><line x1="980.5" y1="327.4" x2="984.3" y2="327.4" stroke="#8a8e97" stroke-width="1.1"/><text x="987.3" y="330.7" font-size="9.4" fill="#585b66" textLength="32.4" lengthAdjust="spacingAndGlyphs" style="font-family:'Liberation Sans',sans-serif">1705.000</text><line x1="980.5" y1="348.7" x2="984.3" y2="348.7" stroke="#8a8e97" stroke-width="1.1"/><text x="987.3" y="352.0" font-size="9.4" fill="#585b66" textLength="32.4" lengthAdjust="spacingAndGlyphs" style="font-family:'Liberation Sans',sans-serif">1700.000</text><line x1="980.5" y1="370.0" x2="984.3" y2="370.0" stroke="#8a8e97" stroke-width="1.1"/><text x="987.3" y="373.3" font-size="9.4" fill="#585b66" textLength="32.4" lengthAdjust="spacingAndGlyphs" style="font-family:'Liberation Sans',sans-serif">1695.000</text><line x1="980.5" y1="391.2" x2="984.3" y2="391.2" stroke="#8a8e97" stroke-width="1.1"/><text x="987.3" y="394.6" font-size="9.4" fill="#585b66" textLength="32.4" lengthAdjust="spacingAndGlyphs" style="font-family:'Liberation Sans',sans-serif">1690.000</text><line x1="980.5" y1="412.5" x2="984.3" y2="412.5" stroke="#8a8e97" stroke-width="1.1"/><text x="987.3" y="415.8" font-size="9.4" fill="#585b66" textLength="32.4" lengthAdjust="spacingAndGlyphs" style="font-family:'Liberation Sans',sans-serif">1685.000</text><line x1="980.5" y1="433.8" x2="984.3" y2="433.8" stroke="#8a8e97" stroke-width="1.1"/><text x="987.3" y="437.1" font-size="9.4" fill="#585b66" textLength="32.4" lengthAdjust="spacingAndGlyphs" style="font-family:'Liberation Sans',sans-serif">1680.000</text><line x1="980.5" y1="472.5" x2="984.3" y2="472.5" stroke="#8a8e97" stroke-width="1.1"/><text x="987.3" y="475.8" font-size="9.4" fill="#585b66" textLength="20.5" lengthAdjust="spacingAndGlyphs" style="font-family:'Liberation Sans',sans-serif">4.000</text><line x1="980.5" y1="498.0" x2="984.3" y2="498.0" stroke="#8a8e97" stroke-width="1.1"/><text x="987.3" y="501.3" font-size="9.4" fill="#585b66" textLength="20.5" lengthAdjust="spacingAndGlyphs" style="font-family:'Liberation Sans',sans-serif">0.000</text><line x1="980.5" y1="523.4" x2="984.3" y2="523.4" stroke="#8a8e97" stroke-width="1.1"/><text x="987.3" y="526.7" font-size="9.4" fill="#585b66" textLength="24.0" lengthAdjust="spacingAndGlyphs" style="font-family:'Liberation Sans',sans-serif">−4.000</text><line x1="980.5" y1="549.0" x2="984.3" y2="549.0" stroke="#8a8e97" stroke-width="1.1"/><text x="987.3" y="552.3" font-size="9.4" fill="#585b66" textLength="24.0" lengthAdjust="spacingAndGlyphs" style="font-family:'Liberation Sans',sans-serif">−8.000</text><rect x="990.9" y="0" width="24.3" height="13.5" fill="#ffffff"/><rect x="992.5" y="1.2" width="18.9" height="10.7" rx="2" fill="#edf0f7"/><text x="995.6" y="9.7" font-size="8.6" fill="#5d606b" textLength="15" lengthAdjust="spacingAndGlyphs" style="font-family:'Liberation Sans',sans-serif">USD</text><rect x="980.5" y="116.5" width="43.5" height="10.099999999999994" fill="#131722"/><line x1="980.5" y1="121.5" x2="983.5" y2="121.5" stroke="#fff" stroke-width="1"/><text x="987.2" y="124.5" font-size="8.4" fill="#fff" stroke="#fff" stroke-width="0.15" textLength="32.4" lengthAdjust="spacingAndGlyphs" style="font-family:'Liberation Sans',sans-serif">1753.384</text><rect x="981.1" y="197.1" width="43.5" height="14" fill="#fff"/><rect x="980.5" y="185.2" width="43.5" height="12.200000000000017" fill="#26a69a"/><line x1="980.5" y1="191.3" x2="983.5" y2="191.3" stroke="#eafffb" stroke-width="1"/><text x="987.2" y="194.3" font-size="8.4" fill="#eafffb" stroke="#eafffb" stroke-width="0.15" textLength="32.4" lengthAdjust="spacingAndGlyphs" style="font-family:'Liberation Sans',sans-serif">1736.992</text><rect x="997.2" y="198.7" width="27" height="12" fill="#26a69a"/><text x="1000.5" y="207.8" font-size="8.4" fill="#eafffb" stroke="#eafffb" stroke-width="0.15" textLength="18.6" lengthAdjust="spacingAndGlyphs" style="font-family:'Liberation Sans',sans-serif">10:17</text><clipPath id="c17"><rect x="981" y="197.4" width="16" height="13"/></clipPath><text x="987.2" y="204.2" font-size="9" fill="#666" clip-path="url(#c17)" style="font-family:'Liberation Sans',sans-serif">1735.000</text><rect x="981.1" y="197.4" width="43.5" height="1.3" fill="#fff"/><rect x="980.5" y="210.5" width="43.5" height="12.699999999999989" fill="#131722"/><line x1="980.5" y1="216.8" x2="983.5" y2="216.8" stroke="#fff" stroke-width="1"/><text x="987.2" y="219.8" font-size="8.4" fill="#fff" stroke="#fff" stroke-width="0.15" textLength="32.4" lengthAdjust="spacingAndGlyphs" style="font-family:'Liberation Sans',sans-serif">1736.394</text><rect x="980.5" y="223.2" width="43.5" height="12.400000000000006" fill="#f0524f"/><line x1="980.5" y1="229.4" x2="983.5" y2="229.4" stroke="#fff" stroke-width="1"/><text x="987.2" y="232.4" font-size="8.4" fill="#fff" stroke="#fff" stroke-width="0.15" textLength="32.4" lengthAdjust="spacingAndGlyphs" style="font-family:'Liberation Sans',sans-serif">1730.282</text><rect x="980.5" y="235.6" width="43.5" height="13.0" fill="#131722"/><line x1="980.5" y1="242.1" x2="983.5" y2="242.1" stroke="#fff" stroke-width="1"/><text x="987.2" y="245.1" font-size="8.4" fill="#fff" stroke="#fff" stroke-width="0.15" textLength="32.4" lengthAdjust="spacingAndGlyphs" style="font-family:'Liberation Sans',sans-serif">1724.874</text><rect x="980.5" y="252.2" width="43.5" height="11.699999999999989" fill="#50535e"/><line x1="980.5" y1="258.0" x2="983.5" y2="258.0" stroke="#fff" stroke-width="1"/><text x="987.2" y="261.0" font-size="8.4" fill="#fff" stroke="#fff" stroke-width="0.15" textLength="32.4" lengthAdjust="spacingAndGlyphs" style="font-family:'Liberation Sans',sans-serif">1721.263</text><rect x="967.3" y="252.5" width="12.6" height="11.4" fill="#50535e"/><path d="M973.6,254.8 V261.6 M970.2,258.2 H977" stroke="#fff" stroke-width="1"/><rect x="980.5" y="289.0" width="43.5" height="10.800000000000011" fill="#131722"/><line x1="980.5" y1="294.4" x2="983.5" y2="294.4" stroke="#fff" stroke-width="1"/><text x="987.2" y="297.4" font-size="8.4" fill="#fff" stroke="#fff" stroke-width="0.15" textLength="32.4" lengthAdjust="spacingAndGlyphs" style="font-family:'Liberation Sans',sans-serif">1712.760</text><rect x="980.5" y="416.6" width="43.5" height="11.099999999999966" fill="#131722"/><line x1="980.5" y1="422.1" x2="983.5" y2="422.1" stroke="#fff" stroke-width="1"/><text x="987.2" y="425.1" font-size="8.4" fill="#fff" stroke="#fff" stroke-width="0.15" textLength="32.4" lengthAdjust="spacingAndGlyphs" style="font-family:'Liberation Sans',sans-serif">1682.820</text><rect x="980.5" y="458" width="32.3" height="12.7" fill="#fba21a"/><line x1="980.5" y1="464.3" x2="983.5" y2="464.3" stroke="#131722" stroke-width="1"/><text x="986.6" y="467.6" font-size="8.6" fill="#131722" stroke="#131722" stroke-width="0.1" textLength="20.8" lengthAdjust="spacingAndGlyphs" style="font-family:'Liberation Sans',sans-serif">4.078</text><rect x="980.5" y="471" width="32.3" height="12" fill="#2962ff"/><line x1="980.5" y1="477" x2="983.5" y2="477" stroke="#fff" stroke-width="1"/><text x="986.6" y="480.3" font-size="8.6" fill="#fff" stroke="#fff" stroke-width="0.15" textLength="20.8" lengthAdjust="spacingAndGlyphs" style="font-family:'Liberation Sans',sans-serif">3.357</text><rect x="980.5" y="495.6" width="35.7" height="12.9" fill="#ef5350"/><line x1="980.5" y1="502" x2="983.5" y2="502" stroke="#fff" stroke-width="1"/><text x="986.6" y="505.3" font-size="8.6" fill="#fff" stroke="#fff" stroke-width="0.15" textLength="23.4" lengthAdjust="spacingAndGlyphs" style="font-family:'Liberation Sans',sans-serif">−0.722</text><line x1="0" y1="447.6" x2="1024" y2="447.6" stroke="#a9abb0" stroke-width="1.6"/><rect x="947.3" y="1" width="12" height="13.6" rx="2" fill="#fff" stroke="#e3e5ea" stroke-width="0.8"/><path d="M953.3,4.5 V10.8 M950.8,8.4 L953.3,10.9 L955.8,8.4" stroke="#3a3d46" stroke-width="1.1" fill="none"/><rect x="964" y="1" width="12" height="13.6" rx="2" fill="#fff" stroke="#e3e5ea" stroke-width="0.8"/><path d="M966.8,6.5 V5.3 Q966.8,4.3 967.8,4.3 H972.2 Q973.2,4.3 973.2,5.3 V6.5 M966.8,9 V10.2 Q966.8,11.2 967.8,11.2 H972.2 Q973.2,11.2 973.2,10.2 V9" stroke="#3a3d46" stroke-width="1.1" fill="none"/></svg></body></html>
